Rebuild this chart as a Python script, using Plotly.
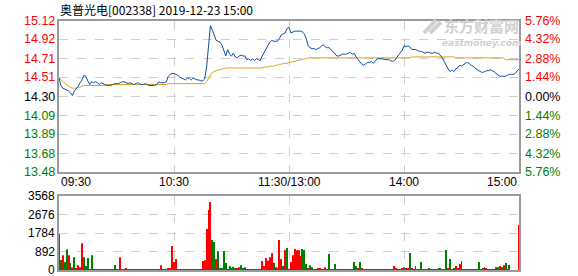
import plotly.graph_objects as go

W, H = 578, 276

title_text = "奥普光电[002338] 2019-12-23 15:00"
prev_close = 14.30
x_tick_pos = [0, 60, 120, 180, 240]
x_tick_labels = ["09:30", "10:30", "11:30/13:00", "14:00", "15:00"]
price_ticks = [15.12, 14.92, 14.71, 14.51, 14.30, 14.09, 13.89, 13.68, 13.48]
pct_labels = ["5.76%", "4.32%", "2.88%", "1.44%", "0.00%", "1.44%", "2.88%", "4.32%", "5.76%"]
vol_ticks = [3568, 2676, 1784, 892, 0]

price = [
    14.50, 14.42, 14.39, 14.38, 14.37, 14.36, 14.34, 14.31, 14.36, 14.38,
    14.41, 14.45, 14.48, 14.53, 14.52, 14.47, 14.43, 14.46, 14.45, 14.46,
    14.45, 14.43, 14.45, 14.44, 14.43, 14.42, 14.42, 14.42, 14.43, 14.44,
    14.44, 14.44, 14.45, 14.46, 14.46, 14.45, 14.44, 14.45, 14.44, 14.43,
    14.44, 14.45, 14.44, 14.43, 14.43, 14.44, 14.43, 14.42, 14.42, 14.42,
    14.42, 14.43, 14.46, 14.45, 14.45, 14.45, 14.46, 14.52, 14.54, 14.55,
    14.55, 14.54, 14.53, 14.51, 14.50, 14.49, 14.48, 14.50, 14.50, 14.48,
    14.50, 14.49, 14.48, 14.48, 14.47, 14.47, 14.49, 14.62, 14.85, 15.07,
    15.02, 14.97, 14.91, 14.90, 14.89, 14.86, 14.79, 14.74, 14.81, 14.76,
    14.74, 14.77, 14.73, 14.72, 14.74, 14.75, 14.74, 14.74, 14.70, 14.71,
    14.69, 14.71, 14.69, 14.71, 14.70, 14.69, 14.74, 14.78, 14.81, 14.85,
    14.89, 14.91, 14.90, 14.90, 14.90, 14.93, 14.97, 14.98, 14.99, 15.04,
    15.05, 14.99, 15.00, 15.01, 15.01, 15.01, 15.01, 15.00, 14.98, 14.93,
    14.85, 14.83, 14.82, 14.82, 14.81, 14.82, 14.83, 14.85, 14.86, 14.84,
    14.83, 14.83, 14.81, 14.78, 14.76, 14.74, 14.74, 14.75, 14.76, 14.76,
    14.76, 14.77, 14.78, 14.76, 14.77, 14.73, 14.70, 14.67, 14.65, 14.64,
    14.66, 14.67, 14.67, 14.68, 14.66, 14.68, 14.71, 14.71, 14.71, 14.71,
    14.70, 14.70, 14.70, 14.69, 14.68, 14.69, 14.72, 14.74, 14.77, 14.80,
    14.85, 14.84, 14.85, 14.84, 14.81, 14.81, 14.81, 14.80, 14.79, 14.79,
    14.78, 14.77, 14.78, 14.78, 14.77, 14.77, 14.78, 14.77, 14.77, 14.75,
    14.72, 14.68, 14.63, 14.60, 14.57, 14.59, 14.57, 14.60, 14.61, 14.64,
    14.63, 14.65, 14.66, 14.67, 14.66, 14.64, 14.63, 14.61, 14.59, 14.58,
    14.57, 14.56, 14.57, 14.58, 14.58, 14.59, 14.58, 14.57, 14.55, 14.53,
    14.52, 14.52, 14.52, 14.52, 14.53, 14.54, 14.54, 14.54, 14.55, 14.57,
    14.60,
]

avg_price = [
    14.50, 14.48, 14.47, 14.45, 14.43, 14.41, 14.40, 14.39, 14.39, 14.39,
    14.40, 14.40, 14.41, 14.42, 14.42, 14.42, 14.42, 14.42, 14.42, 14.42,
    14.42, 14.42, 14.42, 14.42, 14.42, 14.43, 14.43, 14.43, 14.43, 14.43,
    14.43, 14.43, 14.43, 14.43, 14.43, 14.43, 14.43, 14.43, 14.43, 14.43,
    14.43, 14.43, 14.43, 14.43, 14.43, 14.43, 14.43, 14.43, 14.43, 14.43,
    14.43, 14.43, 14.43, 14.43, 14.43, 14.43, 14.43, 14.44, 14.44, 14.44,
    14.44, 14.44, 14.44, 14.44, 14.44, 14.44, 14.44, 14.44, 14.44, 14.44,
    14.44, 14.44, 14.44, 14.44, 14.44, 14.44, 14.44, 14.46, 14.50, 14.53,
    14.56, 14.57, 14.58, 14.59, 14.59, 14.60, 14.60, 14.61, 14.61, 14.61,
    14.61, 14.61, 14.61, 14.61, 14.61, 14.61, 14.61, 14.61, 14.61, 14.61,
    14.61, 14.61, 14.61, 14.61, 14.61, 14.61, 14.61, 14.62, 14.62, 14.62,
    14.63, 14.63, 14.63, 14.64, 14.64, 14.65, 14.65, 14.66, 14.66, 14.66,
    14.67, 14.67, 14.68, 14.68, 14.69, 14.69, 14.70, 14.70, 14.71, 14.71,
    14.72, 14.72, 14.72, 14.72, 14.72, 14.72, 14.72, 14.72, 14.72, 14.72,
    14.72, 14.72, 14.72, 14.72, 14.72, 14.72, 14.72, 14.72, 14.72, 14.72,
    14.72, 14.72, 14.72, 14.72, 14.72, 14.72, 14.72, 14.72, 14.72, 14.72,
    14.72, 14.72, 14.72, 14.72, 14.72, 14.72, 14.72, 14.72, 14.72, 14.72,
    14.72, 14.72, 14.72, 14.72, 14.72, 14.72, 14.72, 14.72, 14.72, 14.72,
    14.72, 14.72, 14.72, 14.72, 14.73, 14.73, 14.73, 14.73, 14.73, 14.73,
    14.73, 14.73, 14.73, 14.73, 14.73, 14.73, 14.73, 14.73, 14.73, 14.73,
    14.73, 14.73, 14.73, 14.73, 14.73, 14.73, 14.73, 14.72, 14.72, 14.72,
    14.72, 14.72, 14.72, 14.72, 14.72, 14.72, 14.72, 14.72, 14.72, 14.72,
    14.72, 14.72, 14.72, 14.72, 14.72, 14.72, 14.72, 14.72, 14.72, 14.72,
    14.72, 14.72, 14.72, 14.70, 14.70, 14.70, 14.70, 14.70, 14.70, 14.70,
    14.70,
]

volume = [
    1735, 482, 707, 386, 997, 707, 337, 126, 611, 96,
    225, 130, 1285, 611, 193, 578, 30, 707, 40, 40,
    40, 40, 40, 40, 40, 40, 40, 40, 40, 240,
    40, 40, 611, 40, 40, 96, 40, 40, 40, 40,
    40, 40, 40, 40, 40, 40, 40, 40, 40, 40,
    40, 40, 40, 225, 40, 40, 40, 96, 96, 1157,
    386, 530, 40, 40, 40, 40, 40, 40, 40, 40,
    40, 40, 40, 40, 40, 434, 466, 1976, 2892, 3278,
    1446, 1350, 530, 900, 96, 96, 916, 337, 40, 193,
    110, 160, 96, 96, 130, 225, 96, 130, 40, 40,
    40, 40, 40, 40, 40, 40, 434, 193, 578, 450,
    611, 803, 354, 130, 96, 1446, 530, 193, 964, 1060,
    40, 386, 707, 1012, 948, 948, 675, 1012, 964, 289,
    96, 225, 130, 40, 40, 96, 96, 40, 40, 130,
    40, 771, 40, 40, 289, 40, 40, 40, 40, 40,
    40, 40, 40, 40, 386, 193, 96, 386, 96, 40,
    40, 40, 40, 40, 40, 40, 40, 40, 40, 40,
    40, 40, 40, 40, 40, 193, 60, 40, 40, 60,
    130, 96, 96, 819, 96, 40, 193, 40, 40, 386,
    40, 40, 40, 96, 40, 40, 40, 40, 96, 96,
    40, 40, 964, 96, 530, 40, 96, 193, 96, 289,
    434, 40, 40, 40, 40, 40, 40, 40, 40, 386,
    40, 96, 130, 96, 40, 40, 40, 40, 130, 130,
    193, 130, 225, 337, 30, 240, 0, 0, 0, 0,
    2169,
]

vol_dir = (
    "ggrggrgrgr" "rrrgggrgrr" "rrrrrrrrrg" "rrrrrrrrrr" "rrrrrrrrrr"
    "rrrrrrgrrr" "rrgggggggg" "gggggrrrrr" "ggrggggggg" "gggrrgggrr"
    "rrrrrrrrrr" "rrgrgrrgrg" "rrrrrrrggg" "rggrrrrggr" "gggggrrrrr"
    "rrrrggrgrr" "rrrrrrrrrr" "rrrrrrrrrr" "grrgrrgrrg" "rrrggrrggg"
    "gggrgrgrrr" "rrrrrrrrrg" "ggrrrrrrgg" "rgrgrgrrrrr"
)

minutes = list(range(len(price)))
assert len(price) == 241 and len(avg_price) == 241 and len(volume) == 241 and len(vol_dir) == 241

RED, GREEN, BLACK = "#ff0000", "#008000", "#000000"
NUMFONT = "Liberation Sans"
bar_colors = [RED if c == "r" else GREEN for c in vol_dir]

X0, X1 = 59, 519
PT, PB = 21, 172
VT, VB = 196, 270
def px(x): return x / W
def py(y): return 1 - y / H

fig = go.Figure()
fig.add_trace(go.Scatter(x=minutes, y=avg_price, mode="lines",
                         line=dict(color="#e2a21b", width=1), xaxis="x", yaxis="y"))
fig.add_trace(go.Scatter(x=minutes, y=price, mode="lines",
                         line=dict(color="#0b4ea2", width=1), xaxis="x", yaxis="y"))
fig.add_trace(go.Bar(x=minutes, y=volume, width=0.5,
                     marker=dict(color=bar_colors, line=dict(width=0)),
                     xaxis="x2", yaxis="y2"))

frame = dict(showline=True, mirror=True, linecolor="#9a9a9a", linewidth=2,
             zeroline=False, showticklabels=False, ticks="")
grid = dict(showgrid=True, gridcolor="#cfcfcf", griddash="dash", gridwidth=1)

fig.update_layout(
    width=W, height=H, margin=dict(l=0, r=0, t=0, b=0),
    paper_bgcolor="white", plot_bgcolor="white", showlegend=False,
    xaxis=dict(domain=[px(X0), px(X1)], range=[0, 240], anchor="y",
               tickvals=x_tick_pos[1:-1], **frame, **grid),
    yaxis=dict(domain=[py(PB), py(PT)], range=[price_ticks[-1], price_ticks[0]], anchor="x",
               tickvals=price_ticks[1:-1], **frame, **grid),
    xaxis2=dict(domain=[px(X0), px(X1)], range=[0, 240], anchor="y2",
                tickvals=x_tick_pos[1:-1], **frame, **grid),
    yaxis2=dict(domain=[py(VB), py(VT)], range=[0, vol_ticks[0]], anchor="x2",
                tickvals=vol_ticks[1:-1], **frame, **grid),
)

ann = []
# title
ann.append(dict(text=title_text, x=px(X0 - 1), y=py(9), xref="paper", yref="paper",
                xanchor="left", yanchor="middle", showarrow=False,
                font=dict(family="Noto Sans CJK SC", size=12, color=BLACK)))
# price / percent labels
for v, p in zip(price_ticks, pct_labels):
    col = RED if v > prev_close + 1e-9 else (BLACK if abs(v - prev_close) < 1e-9 else GREEN)
    ann.append(dict(text=f"{v:.2f}", x=px(X0 - 2), y=v, xref="paper", yref="y",
                    xanchor="right", yanchor="middle", showarrow=False,
                    font=dict(family=NUMFONT, size=12.5, color=col)))
    ann.append(dict(text=p, x=px(X1 + 4), y=v, xref="paper", yref="y",
                    xanchor="left", yanchor="middle", showarrow=False,
                    font=dict(family=NUMFONT, size=12.5, color=col)))
# time labels
anchors = ["left", "center", "center", "center", "right"]
for t, lab, a in zip(x_tick_pos, x_tick_labels, anchors):
    ann.append(dict(text=lab, x=t, y=py(182), xref="x", yref="paper",
                    xanchor=a, yanchor="middle", showarrow=False,
                    font=dict(family=NUMFONT, size=12, color=BLACK)))
# volume labels
for v in vol_ticks:
    ann.append(dict(text=str(v), x=px(X0 - 2), y=v, xref="paper", yref="y2",
                    xanchor="right", yanchor="middle", showarrow=False,
                    font=dict(family=NUMFONT, size=12, color=BLACK)))
# watermark
ann.append(dict(text="<b>东方财富网</b>", x=px(481), y=py(26), xref="paper", yref="paper",
                xanchor="center", yanchor="middle", showarrow=False, borderpad=0,
                font=dict(family="Noto Sans CJK SC", size=15, color="#d0d0d0")))
ann.append(dict(text="<b><i>eastmoney.com</i></b>", x=px(481), y=py(42.5), xref="paper", yref="paper",
                xanchor="center", yanchor="middle", showarrow=False, borderpad=0,
                font=dict(family="DejaVu Sans", size=9, color="#d0d0d0")))
fig.update_layout(annotations=ann)

# watermark logo (two slanted strokes) in paper space
logo_shapes = []
for (xa, ya, xb, yb) in [(424, 33, 436, 20), (430, 33, 441, 22)]:
    logo_shapes.append(dict(type="line", x0=px(xa), y0=py(ya), x1=px(xb), y1=py(yb),
                            xref="paper", yref="paper",
                            line=dict(color="#d0d0d0", width=4), layer="above"))
fig.update_layout(shapes=logo_shapes)

fig.write_html("out.html")
